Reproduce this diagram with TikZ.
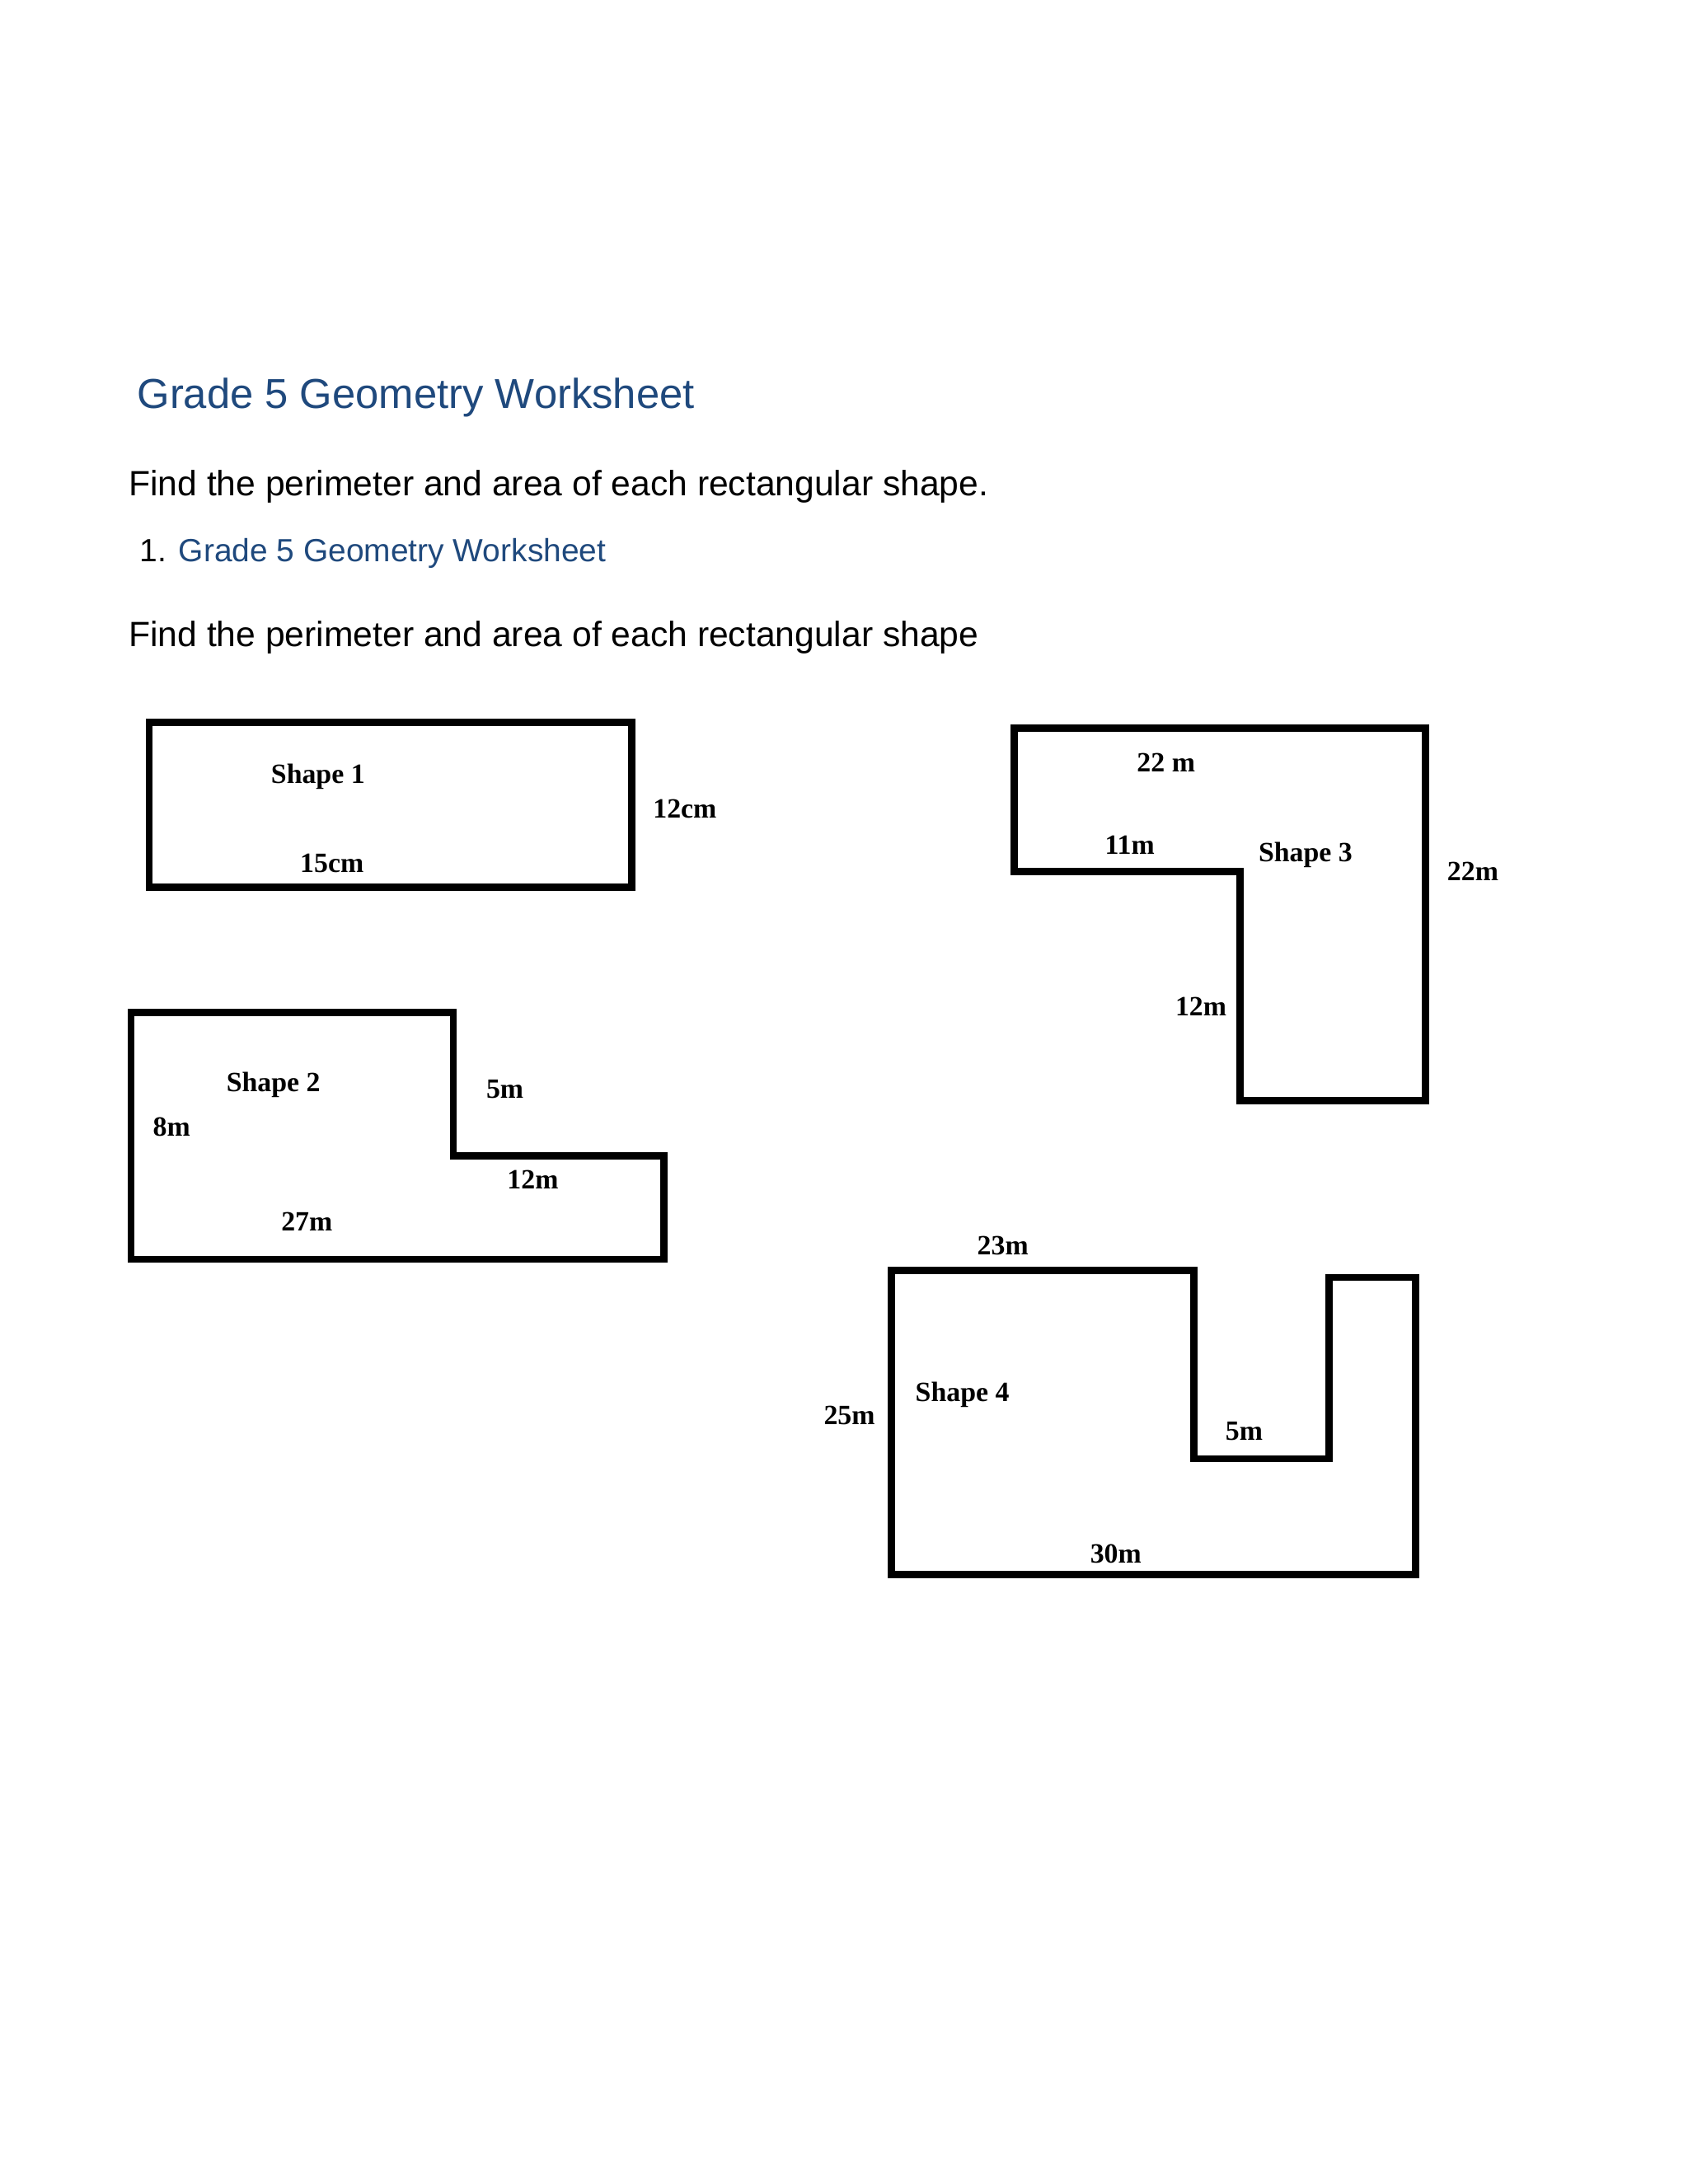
\documentclass[tikz,border=0pt]{standalone}
\usepackage{fontspec}
\setmainfont{Liberation Sans}
\newfontfamily\lblfont{Liberation Serif}
\definecolor{ttl}{HTML}{1F497D}
\begin{document}
\begin{tikzpicture}[x=0.5pt,y=-0.5pt,
  shp/.style={line width=2.6pt,line join=miter},
  lbl/.style={font=\lblfont\bfseries\fontsize{10}{12}\selectfont,inner sep=0pt},
  txt/.style={anchor=west,inner sep=0pt}]
\useasboundingbox[fill=white] (0,0) rectangle (1210,1566);
\node[txt,text=ttl,font=\fontsize{15}{18}\selectfont] (title) at (98,285) {Grade 5 Geometry Worksheet};
\node[txt,font=\fontsize{12.6}{15}\selectfont] (t1) at (92,349) {Find the perimeter and area of each rectangular shape.};
\node[txt,font=\fontsize{11.5}{14}\selectfont] (t2) at (100,397) {1. \textcolor{ttl}{Grade 5 Geometry Worksheet}};
\node[txt,font=\fontsize{12.6}{15}\selectfont] (t3) at (92,457) {Find the perimeter and area of each rectangular shape};
% Shape 1
\draw[shp] (107,518) rectangle (453,636);
\node[lbl] (s1) at (228,557) {Shape 1};
\node[lbl] (s1a) at (238,619) {15cm};
\node[lbl] (s1b) at (491,580) {12cm};
% Shape 2
\draw[shp] (94,726)--(325,726)--(325,829)--(476,829)--(476,903)--(94,903)--cycle;
\node[lbl] (s2) at (196,778) {Shape 2};
\node[lbl] (s2a) at (362,781) {5m};
\node[lbl] (s2b) at (123,808) {8m};
\node[lbl] (s2c) at (382,846) {12m};
\node[lbl] (s2d) at (220,876) {27m};
% Shape 3
\draw[shp] (727,522)--(1022,522)--(1022,789)--(889,789)--(889,625)--(727,625)--cycle;
\node[lbl] (s3a) at (836,547) {22 m};
\node[lbl] (s3b) at (810,606) {11m};
\node[lbl] (s3) at (936,613) {Shape 3};
\node[lbl] (s3c) at (1056,625) {22m};
\node[lbl] (s3d) at (861,722) {12m};
% Shape 4
\draw[shp] (639,911)--(856,911)--(856,1046)--(953,1046)--(953,916)--(1015,916)--(1015,1129)--(639,1129)--cycle;
\node[lbl] (s4a) at (719,893) {23m};
\node[lbl] (s4) at (690,1000) {Shape 4};
\node[lbl] (s4b) at (609,1015) {25m};
\node[lbl] (s4c) at (892,1026) {5m};
\node[lbl] (s4d) at (800,1114) {30m};
\end{tikzpicture}
\end{document}
